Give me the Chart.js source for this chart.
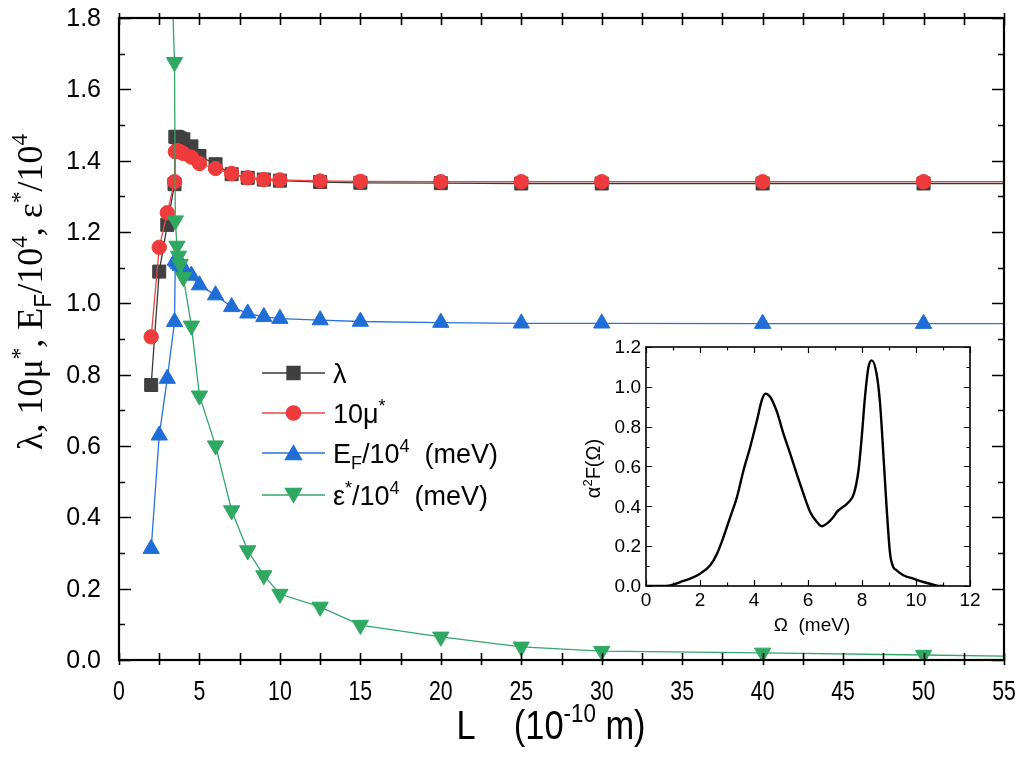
<!DOCTYPE html>
<html><head><meta charset="utf-8">
<script src="https://cdn.jsdelivr.net/npm/chart.js@4.4.1/dist/chart.umd.min.js"></script>
<style>
html,body{margin:0;padding:0;background:#fff;overflow:hidden;}
#wrap{position:relative;width:1025px;height:761px;background:#fff;}
#main{position:absolute;left:0;top:0;}
#inset{position:absolute;left:560px;top:330px;}
</style></head><body>
<div id="wrap">
<canvas id="main" width="1025" height="761"></canvas>
<canvas id="inset" width="430" height="310"></canvas>
</div>
<script>
// ---- data ----
const L = [2, 2.5, 3, 3.45, 3.5, 3.6, 3.7, 3.8, 4, 4.5, 5, 6, 7, 8, 9, 10, 12.5, 15, 20, 25, 30, 40, 50, 60];
const lambdaVals = [0.771, 1.089, 1.220, 1.334, 1.467, 1.466, 1.464, 1.462, 1.460, 1.440, 1.413, 1.390, 1.362, 1.352, 1.347, 1.344, 1.340, 1.338, 1.337, 1.336, 1.336, 1.336, 1.336, 1.336];
const muVals = [0.906, 1.157, 1.254, 1.341, 1.425, 1.428, 1.427, 1.425, 1.420, 1.410, 1.392, 1.378, 1.364, 1.352, 1.347, 1.346, 1.343, 1.342, 1.341, 1.341, 1.341, 1.341, 1.341, 1.341];
const efVals = [0.312, 0.630, 0.789, 0.948, 1.120, 1.115, 1.110, 1.106, 1.100, 1.078, 1.051, 1.023, 0.990, 0.972, 0.962, 0.957, 0.953, 0.949, 0.946, 0.944, 0.944, 0.943, 0.943, 0.943];
const epsVals = [5.5, 3.6, 2.3, 1.676, 1.232, 1.161, 1.133, 1.110, 1.073, 0.937, 0.741, 0.601, 0.419, 0.307, 0.237, 0.185, 0.149, 0.098, 0.065, 0.037, 0.025, 0.020, 0.014, 0.008];
const xTickVals = [0, 5, 10, 15, 20, 25, 30, 35, 40, 45, 50, 55];
const yTickVals = [0, 0.2, 0.4, 0.6, 0.8, 1.0, 1.2, 1.4, 1.6, 1.8];

const omega = [0, 0.5, 0.9, 1.27, 1.64, 2.0, 2.38, 2.63, 2.87, 3.12, 3.37, 3.61, 3.86, 4.11, 4.29, 4.42, 4.6, 4.85, 5.09, 5.34, 5.58, 5.83, 6.08, 6.33, 6.51, 6.7, 6.94, 7.07, 7.5, 7.7, 7.87, 7.99, 8.11, 8.24, 8.36, 8.54, 8.67, 8.79, 8.91, 9.04, 9.16, 9.25, 9.53, 9.9, 10.27, 10.64, 10.9, 11.0];
const a2F = [0, 0, 0.003, 0.02, 0.037, 0.062, 0.104, 0.162, 0.246, 0.346, 0.447, 0.58, 0.698, 0.832, 0.933, 0.966, 0.949, 0.874, 0.765, 0.665, 0.564, 0.464, 0.372, 0.321, 0.300, 0.313, 0.346, 0.372, 0.42, 0.464, 0.58, 0.748, 0.949, 1.10, 1.133, 1.066, 0.915, 0.664, 0.397, 0.162, 0.095, 0.082, 0.054, 0.037, 0.02, 0.007, 0.0, 0.0];
const insetXTicks = [0, 2, 4, 6, 8, 10, 12];
const insetYTicks = [0, 0.2, 0.4, 0.6, 0.8, 1.0, 1.2];

const SANS = '"Liberation Sans", Arial, sans-serif';
const SERIF = '"Liberation Serif", "Times New Roman", serif';

function pts(xs, ys) { return xs.map((x, i) => ({ x: x, y: ys[i] })); }

function segFont(s, B, fam) {
  const size = s.s ? Math.round(B * 0.65) : B;
  return size + 'px ' + (s.f || fam);
}
function richWidth(ctx, segs, B, fam) {
  let w = 0;
  for (const s of segs) { ctx.font = segFont(s, B, fam); w += ctx.measureText(s.t).width; }
  return w;
}
function drawRich(ctx, segs, x, y, B, fam, align) {
  const w = richWidth(ctx, segs, B, fam);
  let cx = align === 'center' ? x - w / 2 : x;
  ctx.textAlign = 'left';
  ctx.textBaseline = 'alphabetic';
  for (const s of segs) {
    ctx.font = segFont(s, B, fam);
    const dy = s.s === 'sup' ? -0.42 * B : (s.s === 'sub' ? 0.24 * B : 0);
    ctx.fillText(s.t, cx, y + dy);
    cx += ctx.measureText(s.t).width;
  }
}

const legendItems = [
  [{ t: 'λ' }],
  [{ t: '10μ' }, { t: '*', s: 'sup' }],
  [{ t: 'E' }, { t: 'F', s: 'sub' }, { t: '/10' }, { t: '4', s: 'sup' }, { t: '  (meV)' }],
  [{ t: 'ε' }, { t: '*', s: 'sup' }, { t: '/10' }, { t: '4', s: 'sup' }, { t: '  (meV)' }]
];

const mainPlugin = {
  id: 'mainAxes',
  afterDraw(chart) {
    const ctx = chart.ctx, a = chart.chartArea, xs = chart.scales.x, ys = chart.scales.y;
    ctx.save();
    ctx.strokeStyle = '#000';
    ctx.fillStyle = '#000';
    // ticks
    ctx.lineWidth = 1.6;
    ctx.beginPath();
    for (let v = 0; v <= 55.001; v += 2.5) {
      const px = Math.round(xs.getPixelForValue(v)) + 0.5;
      ctx.moveTo(px, a.bottom - 7); ctx.lineTo(px, a.bottom + 5);
      ctx.moveTo(px, a.top + 7); ctx.lineTo(px, a.top - 5);
    }
    for (let v = 0; v <= 1.8001; v += 0.1) {
      const major = Math.abs(v * 5 - Math.round(v * 5)) < 1e-6;
      const len = major ? 12 : 6;
      const py = Math.round(ys.getPixelForValue(v)) + 0.5;
      ctx.moveTo(a.left, py); ctx.lineTo(a.left + len, py);
      ctx.moveTo(a.right, py); ctx.lineTo(a.right - len, py);
    }
    ctx.stroke();
    // frame
    ctx.lineWidth = 2.2;
    ctx.strokeRect(a.left, a.top, a.right - a.left, a.bottom - a.top);

    // y tick labels
    ctx.font = '25px ' + SANS;
    ctx.textAlign = 'right';
    ctx.textBaseline = 'middle';
    ys.ticks.forEach(t => {
      ctx.fillText(t.value.toFixed(1), a.left - 18, ys.getPixelForValue(t.value) + 1);
    });
    // x tick labels (condensed)
    ctx.font = '28px ' + SANS;
    ctx.textAlign = 'center';
    ctx.textBaseline = 'alphabetic';
    xs.ticks.forEach(t => {
      const px = xs.getPixelForValue(t.value);
      ctx.save();
      ctx.translate(px, a.bottom + 40);
      ctx.scale(0.76, 1);
      ctx.fillText(String(t.value), 0, 0);
      ctx.restore();
    });
    // x title
    ctx.save();
    ctx.translate(551, 739);
    ctx.scale(0.86, 1);
    drawRich(ctx, [{ t: 'L    (10' }, { t: '-10', s: 'sup' }, { t: ' m)' }], 0, 0, 40, SANS, 'center');
    ctx.restore();
    // y title
    ctx.save();
    ctx.translate(42, 292);
    ctx.rotate(-Math.PI / 2);
    drawRich(ctx, [{ t: 'λ, 10μ' }, { t: '*', s: 'sup' }, { t: ', E' }, { t: 'F', s: 'sub', f: SANS }, { t: '/10' }, { t: '4', s: 'sup' }, { t: ', ε' }, { t: '*', s: 'sup' }, { t: '/10' }, { t: '4', s: 'sup' }], 0, 0, 36, SERIF, 'center');
    ctx.restore();

    // legend
    const rows = [373, 413, 453, 495];
    chart.data.datasets.forEach((ds, i) => {
      const y = rows[i];
      ctx.strokeStyle = ds.borderColor;
      ctx.lineWidth = ds.borderWidth;
      ctx.beginPath(); ctx.moveTo(262, y); ctx.lineTo(325, y); ctx.stroke();
      ctx.fillStyle = ds.pointBackgroundColor;
      ctx.strokeStyle = ds.pointBorderColor;
      Chart.helpers.drawPoint(ctx, { pointStyle: ds.pointStyle, rotation: ds.pointRotation || 0, radius: ds.pointRadius, borderWidth: 1 }, 293.5, y + (ds.pointStyle === 'triangle' ? (ds.pointRotation ? -2 : 2) : 0));
      ctx.fillStyle = '#000';
      drawRich(ctx, legendItems[i], 333, y + 10, 27, SANS, 'left');
    });
    ctx.restore();
  }
};

const mainChart = new Chart(document.getElementById('main'), {
  type: 'line',
  data: {
    datasets: [
      { label: 'λ', data: pts(L, lambdaVals), borderColor: '#3a3a3a', borderWidth: 1.3, pointStyle: 'rect', pointRadius: 9.2, pointBackgroundColor: '#404040', pointBorderColor: '#404040', pointBorderWidth: 1, order: 4 },
      { label: '10μ*', data: pts(L, muVals), borderColor: '#e84646', borderWidth: 1.3, pointStyle: 'circle', pointRadius: 7.2, pointBackgroundColor: '#ef3b3b', pointBorderColor: '#ef3b3b', pointBorderWidth: 1, order: 3 },
      { label: 'EF/10^4 (meV)', data: pts(L, efVals), borderColor: '#2b72da', borderWidth: 1.3, pointStyle: 'triangle', pointRadius: 9.4, pointBackgroundColor: '#1f6ed8', pointBorderColor: '#1f6ed8', pointBorderWidth: 1, order: 2 },
      { label: 'ε*/10^4 (meV)', data: pts(L, epsVals), borderColor: '#33a66a', borderWidth: 1.3, pointStyle: 'triangle', pointRotation: 180, pointRadius: 9.4, pointBackgroundColor: '#2fa862', pointBorderColor: '#2fa862', pointBorderWidth: 1, order: 1 }
    ]
  },
  options: {
    responsive: false,
    animation: false,
    devicePixelRatio: 1,
    layout: { padding: { left: 119, right: 21, top: 18, bottom: 101 } },
    plugins: { legend: { display: false }, tooltip: { enabled: false } },
    elements: { line: { tension: 0 } },
    scales: {
      x: { type: 'linear', min: 0, max: 55, afterBuildTicks: s => { s.ticks = xTickVals.map(v => ({ value: v })); },
           ticks: { display: false }, grid: { display: false, drawTicks: false }, border: { display: false } },
      y: { type: 'linear', min: 0, max: 1.8, afterBuildTicks: s => { s.ticks = yTickVals.map(v => ({ value: v })); },
           ticks: { display: false }, grid: { display: false, drawTicks: false }, border: { display: false } }
    }
  },
  plugins: [mainPlugin]
});

const insetPlugin = {
  id: 'insetAxes',
  afterDraw(chart) {
    const ctx = chart.ctx, a = chart.chartArea, xs = chart.scales.x, ys = chart.scales.y;
    ctx.save();
    ctx.strokeStyle = '#000';
    ctx.fillStyle = '#000';
    ctx.lineWidth = 1.2;
    ctx.beginPath();
    for (let v = 0; v <= 12.001; v += 1) {
      const len = (Math.round(v) % 2 === 0) ? 6 : 3.5;
      const px = Math.round(xs.getPixelForValue(v)) + 0.5;
      ctx.moveTo(px, a.bottom); ctx.lineTo(px, a.bottom - len);
      ctx.moveTo(px, a.top); ctx.lineTo(px, a.top + len);
    }
    for (let k = 0; k <= 12; k++) {
      const v = k * 0.1;
      const len = (k % 2 === 0) ? 6 : 3.5;
      const py = Math.round(ys.getPixelForValue(v)) + 0.5;
      ctx.moveTo(a.left, py); ctx.lineTo(a.left + len, py);
      ctx.moveTo(a.right, py); ctx.lineTo(a.right - len, py);
    }
    ctx.stroke();
    ctx.lineWidth = 1.6;
    ctx.strokeRect(a.left, a.top, a.right - a.left, a.bottom - a.top);

    ctx.font = '19px ' + SANS;
    ctx.textAlign = 'right';
    ctx.textBaseline = 'middle';
    ys.ticks.forEach(t => ctx.fillText(t.value.toFixed(1), a.left - 5, ys.getPixelForValue(t.value) + 1));
    ctx.textAlign = 'center';
    ctx.textBaseline = 'top';
    xs.ticks.forEach(t => ctx.fillText(String(t.value), xs.getPixelForValue(t.value), a.bottom + 5));
    drawRich(ctx, [{ t: 'Ω  (meV)' }], (a.left + a.right) / 2 + 4, a.bottom + 45, 19, SANS, 'center');
    ctx.save();
    ctx.translate(40, (a.top + a.bottom) / 2 + 2);
    ctx.rotate(-Math.PI / 2);
    drawRich(ctx, [{ t: 'α' }, { t: '2', s: 'sup' }, { t: 'F(Ω)' }], 0, 0, 20, SANS, 'center');
    ctx.restore();
    ctx.restore();
  }
};

const insetChart = new Chart(document.getElementById('inset'), {
  type: 'line',
  data: { datasets: [{ label: 'α2F(Ω)', data: pts(omega, a2F), borderColor: '#000', borderWidth: 2.4, pointRadius: 0, cubicInterpolationMode: 'monotone' }] },
  options: {
    responsive: false,
    animation: false,
    devicePixelRatio: 1,
    layout: { padding: { left: 86, right: 20, top: 17, bottom: 54 } },
    plugins: { legend: { display: false }, tooltip: { enabled: false } },
    scales: {
      x: { type: 'linear', min: 0, max: 12, afterBuildTicks: s => { s.ticks = insetXTicks.map(v => ({ value: v })); },
           ticks: { display: false }, grid: { display: false, drawTicks: false }, border: { display: false } },
      y: { type: 'linear', min: 0, max: 1.2, afterBuildTicks: s => { s.ticks = insetYTicks.map(v => ({ value: v })); },
           ticks: { display: false }, grid: { display: false, drawTicks: false }, border: { display: false } }
    }
  },
  plugins: [insetPlugin]
});
</script>
</body></html>
